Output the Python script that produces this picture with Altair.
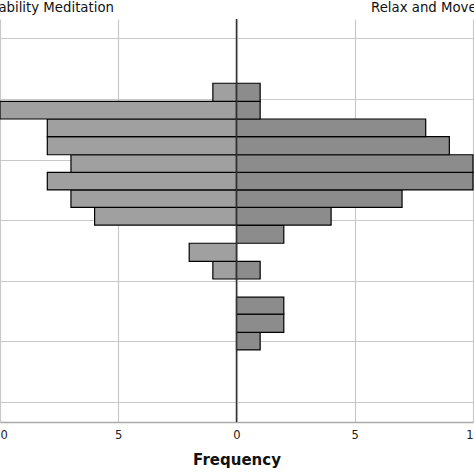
import altair as alt
import pandas as pd

# Bin edges (vertical axis; axis labels are cropped away)
bin_edges = [8.6, 11.5, 14.5, 17.3, 20.3, 23.2, 26.2, 29.2, 32.1, 35.0, 37.9, 40.8, 43.8, 46.7, 49.6, 52.6]
# Frequencies per bin, bottom to top
left_counts = [0, 0, 0, 0, 1, 2, 0, 6, 7, 8, 7, 8, 8, 10, 1]
right_counts = [1, 2, 2, 0, 1, 0, 2, 4, 7, 10, 10, 9, 8, 1, 1]
group_titles = ["Stability Meditation", "Relax and Movement"]
x_ticks = [-10, -5, 0, 5, 10]
y_grid = [0, 10, 20, 30, 40, 50, 60]

rows = []
for i in range(len(left_counts)):
    lo, hi = bin_edges[i], bin_edges[i + 1]
    if left_counts[i] > 0:
        rows.append({"lo": lo, "hi": hi, "side": "left", "v": -left_counts[i]})
    if right_counts[i] > 0:
        rows.append({"lo": lo, "hi": hi, "side": "right", "v": right_counts[i]})
df = pd.DataFrame(rows)

FONT = "DejaVu Sans"
xscale = alt.Scale(domain=[-10, 10], nice=False, zero=False)
yscale = alt.Scale(domain=[-3.3, 63.2], nice=False, zero=False)

bars = alt.Chart(df).mark_bar(stroke="black", strokeWidth=1.2).encode(
    x=alt.X("v:Q", scale=xscale,
            axis=alt.Axis(values=x_ticks, labelExpr="abs(datum.value)", title="Frequency",
                          grid=True, gridColor="#c8c8c8", gridWidth=1.2,
                          ticks=False, domainColor="#aaaaaa", domainWidth=1.5,
                          labelFlush=False, labelFont=FONT, labelFontSize=11.5, labelColor="#222",
                          labelPadding=7, titleFont=FONT, titleFontSize=15,
                          titleFontWeight="bold", titleColor="#111", titlePadding=12)),
    x2=alt.datum(0),
    y=alt.Y("lo:Q", scale=yscale,
            axis=alt.Axis(values=y_grid, labels=False, ticks=False, domain=False,
                          title=None, grid=True, gridColor="#c8c8c8", gridWidth=1.2)),
    y2="hi:Q",
    color=alt.Color("side:N", scale=alt.Scale(domain=["left", "right"],
                                              range=["#a0a0a0", "#8c8c8c"]), legend=None),
)

center = alt.Chart(pd.DataFrame({"z": [0]})).mark_rule(color="#333333", strokeWidth=1.5).encode(
    x=alt.X("z:Q", scale=xscale),
    y=alt.value(0),
    y2=alt.value(403),
)

tdf = pd.DataFrame({"t": group_titles, "side": ["left", "right"]})
left_title = alt.Chart(tdf[tdf.side == "left"]).mark_text(
    align="right", baseline="alphabetic", font=FONT, fontSize=13.3, color="#111"
).encode(text="t:N", x=alt.value(114), y=alt.value(-7))
right_title = alt.Chart(tdf[tdf.side == "right"]).mark_text(
    align="left", baseline="alphabetic", font=FONT, fontSize=13.3, color="#111"
).encode(text="t:N", x=alt.value(371), y=alt.value(-7))

chart = alt.layer(bars, center, left_title, right_title).properties(
    width=473, height=403,
    padding={"left": 0, "top": 19, "right": 1, "bottom": 52},
    autosize=alt.AutoSizeParams(type="none"),
    background="white",
).configure_view(stroke=None)

chart.save("out.html", embed_options={"renderer": "svg", "actions": False})
